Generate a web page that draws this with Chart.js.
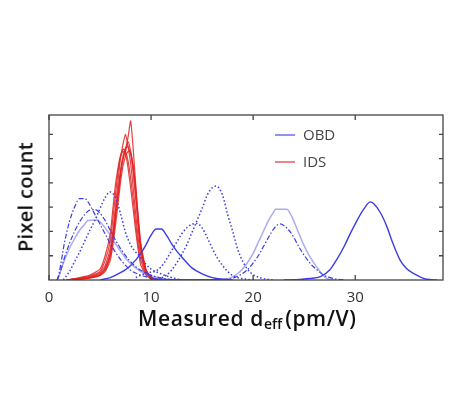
<!DOCTYPE html>
<html>
<head>
<meta charset="utf-8">
<script src="https://cdn.jsdelivr.net/npm/chart.js@4.4.1/dist/chart.umd.min.js"></script>
<style>
  body { margin: 0; background: #fff; }
  #wrap { position: relative; width: 463px; height: 401px; }
  .ytitle { position: absolute; left: 25px; top: 197px; transform: translate(-50%, -50%) rotate(-90deg);
            font: 600 20px "Open Sans", sans-serif; color: #111; white-space: nowrap; letter-spacing: 0.3px; }
  .xtitle { position: absolute; left: 138px; top: 304px; font: 600 21px "Open Sans", sans-serif; color: #111;
            white-space: nowrap; letter-spacing: 0.6px; }
  .xtitle sub { font-size: 14px; vertical-align: -3px; margin-right: 3px; letter-spacing: 0; }
</style>
</head>
<body>
<div id="wrap">
  <canvas id="c" width="463" height="401"></canvas>
  <div class="ytitle">Pixel count</div>
  <div class="xtitle">Measured d<sub>eff</sub>(pm/V)</div>
</div>
<script>
// axes
const xTicks = [0, 10, 20, 30];
const yTicks = [1, 2, 3, 4, 5, 6];
const legendLabels = ['OBD', 'IDS'];

// OBD histograms (blue)
const obd1X = [0.8, 1, 1.5, 2, 2.5, 3, 3.5, 4, 4.5, 5, 5.5, 6, 6.5, 7, 7.5, 8, 9, 10, 11, 12];
const obd1Y = [0, 0.3, 1.5, 2.4, 3.0, 3.35, 3.35, 3.1, 2.7, 2.3, 1.9, 1.5, 1.15, 0.85, 0.6, 0.4, 0.2, 0.08, 0.03, 0];
const obd2X = [0.8, 1, 1.5, 2, 2.5, 3, 3.5, 4, 4.5, 5, 5.5, 6, 6.5, 7, 7.5, 8, 8.5, 9, 10, 11, 12, 13];
const obd2Y = [0, 0.2, 0.9, 1.5, 2.0, 2.4, 2.7, 2.88, 2.9, 2.75, 2.45, 2.05, 1.65, 1.3, 1.0, 0.75, 0.55, 0.4, 0.2, 0.08, 0.02, 0];
const obd3X = [0.8, 1, 1.5, 2, 2.5, 3, 3.5, 3.8, 4.7, 5, 5.5, 6, 6.5, 7, 7.5, 8, 8.5, 9, 10, 11, 12];
const obd3Y = [0, 0.2, 0.8, 1.3, 1.7, 2.05, 2.3, 2.45, 2.47, 2.4, 2.15, 1.85, 1.5, 1.2, 0.9, 0.68, 0.5, 0.35, 0.17, 0.07, 0];
const obd4X = [1.4, 2, 2.5, 3, 3.5, 4, 4.5, 5, 5.5, 6, 6.5, 7, 7.5, 8, 8.5, 9, 9.5, 10, 11, 12, 13];
const obd4Y = [0, 0.35, 0.75, 1.15, 1.6, 2.05, 2.47, 2.95, 3.4, 3.63, 3.4, 2.75, 1.95, 1.45, 1.15, 0.92, 0.65, 0.45, 0.25, 0.1, 0];
const obd5X = [5, 6, 7, 8, 9, 9.5, 10, 10.5, 11, 11.5, 12, 12.5, 13, 14, 15, 16, 17, 18];
const obd5Y = [0, 0.1, 0.3, 0.6, 1.1, 1.45, 1.85, 2.1, 2.1, 1.85, 1.5, 1.2, 0.95, 0.5, 0.25, 0.1, 0.03, 0];
const obd6X = [8.5, 9.5, 10.5, 11, 11.5, 12, 12.5, 13, 13.5, 14, 14.5, 15, 15.5, 16, 16.5, 17, 17.5, 18, 19, 20];
const obd6Y = [0.1, 0.28, 0.38, 0.55, 0.85, 1.2, 1.55, 1.9, 2.15, 2.3, 2.33, 2.15, 1.75, 1.3, 0.9, 0.6, 0.35, 0.18, 0.05, 0];
const obd7X = [10, 11, 11.5, 12, 12.5, 13, 13.5, 14, 14.5, 15, 15.5, 16, 16.4, 17, 17.5, 18, 18.5, 19, 19.5, 20, 21, 22];
const obd7Y = [0, 0.08, 0.2, 0.4, 0.7, 1.05, 1.45, 1.95, 2.45, 2.95, 3.5, 3.8, 3.87, 3.5, 2.7, 2.0, 1.25, 0.75, 0.42, 0.22, 0.06, 0];
const obd8X = [16, 17, 17.7, 18.7, 19.5, 20, 20.5, 21, 21.5, 22, 22.2, 23.3, 23.8, 24.3, 24.9, 25.5, 26.2, 27.2, 28];
const obd8Y = [0, 0.03, 0.07, 0.34, 0.75, 1.1, 1.55, 2.0, 2.45, 2.8, 2.92, 2.92, 2.6, 2.1, 1.5, 1.0, 0.55, 0.07, 0];
const obd9X = [16, 17, 18, 18.7, 19.4, 20, 20.5, 21, 21.5, 22, 22.6, 23, 23.5, 24, 24.3, 24.8, 25.6, 26.3, 26.9, 28, 29];
const obd9Y = [0, 0.02, 0.07, 0.2, 0.41, 0.7, 1.0, 1.37, 1.75, 2.1, 2.31, 2.25, 2.05, 1.75, 1.5, 1.15, 0.68, 0.4, 0.2, 0.05, 0];
const obd10X = [23, 24.6, 25.5, 26.6, 27.5, 28.2, 28.9, 29.5, 30.2, 30.8, 31.5, 31.8, 32.5, 33.1, 33.7, 34.4, 35, 35.7, 36.4, 37, 38];
const obd10Y = [0, 0.02, 0.06, 0.14, 0.41, 0.85, 1.37, 1.9, 2.47, 2.9, 3.22, 3.15, 2.75, 2.2, 1.5, 0.82, 0.48, 0.27, 0.12, 0.03, 0];

// IDS histograms (red), shared bins
const idsX = [1.7, 3, 4, 5, 5.5, 6, 6.25, 6.5, 6.75, 7, 7.25, 7.5, 7.75, 8, 8.25, 8.5, 8.75, 9, 9.5, 10, 11, 17.5];
const ids1Y = [0, 0.05, 0.1, 0.2, 0.4, 1.0, 1.6, 2.5, 3.4, 4.3, 5.0, 5.4, 5.9, 6.56, 5.4, 3.9, 2.4, 1.3, 0.4, 0.1, 0, 0];
const ids2Y = [0, 0.05, 0.12, 0.3, 0.6, 1.3, 2.0, 3.0, 4.0, 5.0, 5.6, 6.0, 5.5, 4.8, 3.8, 2.7, 1.7, 1.0, 0.3, 0.08, 0, 0];
const ids3Y = [0, 0.08, 0.15, 0.35, 0.8, 1.6, 2.5, 3.5, 4.4, 5.1, 5.4, 5.3, 4.9, 4.2, 3.3, 2.3, 1.4, 0.8, 0.25, 0.05, 0, 0];
const ids4Y = [0, 0.04, 0.1, 0.25, 0.5, 1.1, 1.8, 2.7, 3.6, 4.5, 5.1, 5.45, 5.5, 5.2, 4.4, 3.3, 2.1, 1.2, 0.35, 0.08, 0, 0];
const ids5Y = [0, 0.03, 0.08, 0.18, 0.35, 0.8, 1.4, 2.2, 3.1, 4.0, 4.7, 5.1, 5.3, 5.25, 4.7, 3.8, 2.6, 1.5, 0.45, 0.1, 0, 0];
const ids6Y = [0, 0.1, 0.2, 0.45, 1.0, 1.9, 2.9, 3.9, 4.6, 5.1, 5.3, 5.2, 4.6, 3.8, 2.9, 2.0, 1.2, 0.6, 0.2, 0.05, 0, 0];
const ids7Y = [0, 0.05, 0.1, 0.22, 0.45, 1.0, 1.7, 2.6, 3.5, 4.4, 5.0, 5.3, 5.7, 5.3, 4.6, 3.6, 2.4, 1.4, 0.4, 0.1, 0, 0];

const BLUE = 'rgb(60,60,230)';
const LIGHTBLUE = 'rgba(90,90,225,0.5)';
const RED = 'rgba(225,35,35,0.85)';
const DOT = [1.5, 2.2];
const DASHDOT = [5, 2, 1.5, 2];

function curve(xs, ys, color, dash, width) {
  return {
    data: xs.map((x, i) => ({ x: x, y: ys[i] })),
    borderColor: color,
    borderDash: dash,
    borderWidth: width,
    pointRadius: 0,
    fill: false,
    cubicInterpolationMode: 'monotone'
  };
}

const datasets = [
  curve(obd1X, obd1Y, BLUE, DASHDOT, 1.2),
  curve(obd2X, obd2Y, BLUE, DASHDOT, 1.2),
  curve(obd3X, obd3Y, LIGHTBLUE, [], 1.5),
  curve(obd4X, obd4Y, BLUE, DOT, 1.5),
  curve(obd5X, obd5Y, BLUE, [], 1.4),
  curve(obd6X, obd6Y, BLUE, DOT, 1.5),
  curve(obd7X, obd7Y, BLUE, DOT, 1.5),
  curve(obd8X, obd8Y, LIGHTBLUE, [], 1.5),
  curve(obd9X, obd9Y, BLUE, DASHDOT, 1.2),
  curve(obd10X, obd10Y, BLUE, [], 1.4)
];
[ids1Y, ids2Y, ids3Y, ids4Y, ids5Y, ids6Y, ids7Y].forEach(ys => {
  const d = curve(idsX, ys, RED, [], 1.2);
  d.cubicInterpolationMode = 'default';
  d.tension = 0.15;
  datasets.push(d);
});

// frame, inward ticks and the legend
const framePlugin = {
  id: 'frame',
  afterDatasetsDraw(chart) {
    const { ctx, chartArea: a, scales: { x, y } } = chart;
    ctx.save();
    ctx.strokeStyle = '#444';
    ctx.lineWidth = 1.3;
    ctx.strokeRect(a.left, a.top, a.right - a.left, a.bottom - a.top);
    ctx.beginPath();
    xTicks.forEach(v => {
      const px = x.getPixelForValue(v);
      ctx.moveTo(px, a.bottom); ctx.lineTo(px, a.bottom - 5);
      ctx.moveTo(px, a.top); ctx.lineTo(px, a.top + 5);
    });
    yTicks.forEach(v => {
      const py = y.getPixelForValue(v);
      ctx.moveTo(a.left, py); ctx.lineTo(a.left + 4, py);
      ctx.moveTo(a.right, py); ctx.lineTo(a.right - 4, py);
    });
    ctx.stroke();

    const lx = a.left + 226, ly = a.top + 20;
    ctx.font = '15px "Open Sans", sans-serif';
    ctx.textBaseline = 'middle';
    ctx.fillStyle = '#444';
    ['rgb(85,85,235)', 'rgb(225,70,70)'].forEach((c, i) => {
      const yy = ly + i * 27;
      ctx.strokeStyle = c;
      ctx.lineWidth = 1.3;
      ctx.beginPath();
      ctx.moveTo(lx, yy); ctx.lineTo(lx + 20, yy);
      ctx.stroke();
      ctx.fillText(legendLabels[i], lx + 28, yy + 1);
    });
    ctx.restore();
  }
};

new Chart(document.getElementById('c'), {
  type: 'line',
  data: { datasets: datasets },
  options: {
    responsive: false,
    animation: false,
    layout: { padding: { left: 49, right: 20, top: 115, bottom: 0 } },
    plugins: { legend: { display: false }, tooltip: { enabled: false } },
    scales: {
      x: {
        type: 'linear', min: 0, max: 38.6,
        afterFit: s => { s.height = 121; },
        grid: { display: false },
        border: { display: false },
        ticks: {
          stepSize: 10, padding: 1, color: '#333', maxRotation: 0,
          font: { family: 'Open Sans', size: 15 },
          callback: v => xTicks.includes(v) ? v : ''
        }
      },
      y: { min: 0, max: 6.8, display: false }
    }
  },
  plugins: [framePlugin]
});
</script>
</body>
</html>
